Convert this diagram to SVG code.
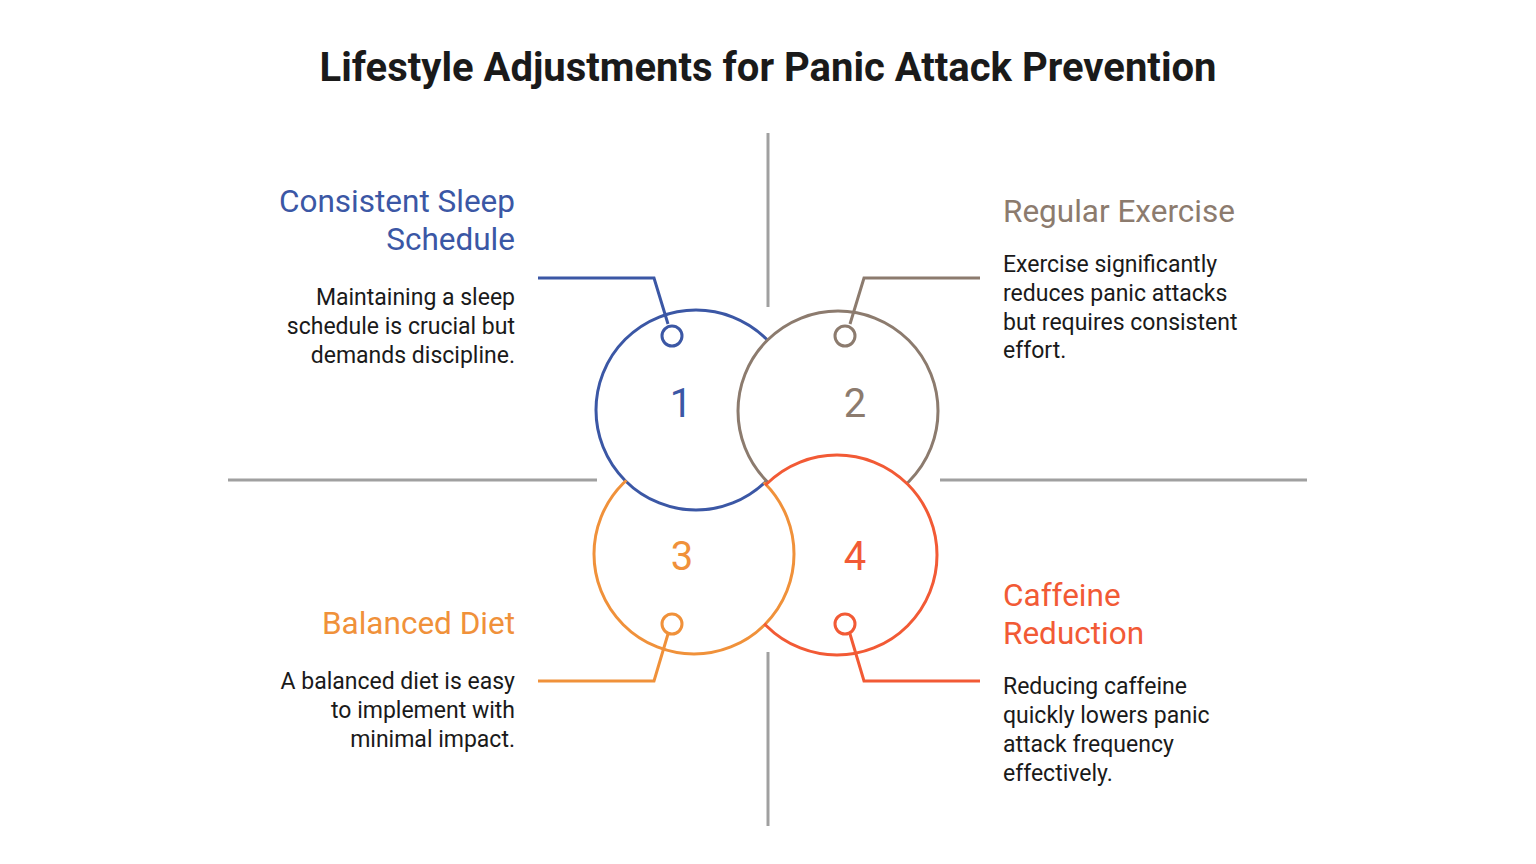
<svg xmlns="http://www.w3.org/2000/svg" width="1536" height="864" viewBox="0 0 1536 864">
<style>
text{font-family:Roboto,"Liberation Sans",sans-serif}
.t{font-size:40px;font-weight:bold;fill:#1a1a1a}
.h{font-size:31.5px}
.d{font-size:23px;fill:#1a1a1a}
.ax{stroke:#a0a0a0;stroke-width:3;fill:none}
.c{fill:none;stroke-width:3}
.n{font-size:40px}
</style>
<defs>
<mask id="m1"><rect width="1536" height="864" fill="#fff"/><circle cx="838" cy="411" r="99" fill="#000"/></mask>
<mask id="m2"><rect width="1536" height="864" fill="#fff"/><circle cx="837" cy="555" r="99" fill="#000"/></mask>
<mask id="m3"><rect width="1536" height="864" fill="#fff"/><circle cx="696" cy="410" r="99" fill="#000"/></mask>
<mask id="m4"><rect width="1536" height="864" fill="#fff"/><circle cx="694" cy="554" r="99" fill="#000"/></mask>
</defs>
<rect width="1536" height="864" fill="#fff"/>
<text class="t" x="768" y="81" text-anchor="middle">Lifestyle Adjustments for Panic Attack Prevention</text>
<g id="axes">
<line class="ax" x1="768" y1="133" x2="768" y2="307"/>
<line class="ax" x1="768" y1="652" x2="768" y2="826"/>
<line class="ax" x1="228" y1="480" x2="597" y2="480"/>
<line class="ax" x1="940" y1="480" x2="1307" y2="480"/>
</g>
<g id="node1"><circle class="c" cx="696" cy="410" r="100" stroke="#3b57a5" mask="url(#m1)"/><text class="n" x="681" y="417" text-anchor="middle" fill="#3b57a5">1</text></g>
<g id="node2"><circle class="c" cx="838" cy="411" r="100" stroke="#8c7b6e" mask="url(#m2)"/><text class="n" x="855" y="417" text-anchor="middle" fill="#8c7b6e">2</text></g>
<g id="node3"><circle class="c" cx="694" cy="554" r="100" stroke="#f0913a" mask="url(#m3)"/><text class="n" x="682" y="570" text-anchor="middle" fill="#f0913a">3</text></g>
<g id="node4"><circle class="c" cx="837" cy="555" r="100" stroke="#f25a35" mask="url(#m4)"/><text class="n" x="855" y="570" text-anchor="middle" fill="#f25a35">4</text></g>
<g id="connectors" fill="none" stroke-width="3">
<polyline points="538,278 654,278 668,324" stroke="#3b57a5"/><circle cx="672" cy="336" r="10" stroke="#3b57a5" fill="#fff"/>
<polyline points="980,278 864,278 850,324" stroke="#8c7b6e"/><circle cx="845" cy="336" r="10" stroke="#8c7b6e" fill="#fff"/>
<polyline points="538,681 654,681 668,634" stroke="#f0913a"/><circle cx="672" cy="624" r="10" stroke="#f0913a" fill="#fff"/>
<polyline points="980,681 864,681 850,634" stroke="#f25a35"/><circle cx="845" cy="624" r="10" stroke="#f25a35" fill="#fff"/>
</g>
<g id="label1" text-anchor="end">
<text class="h" x="515" y="212" fill="#3b57a5">Consistent Sleep</text>
<text class="h" x="515" y="250" fill="#3b57a5">Schedule</text>
<text class="d" x="515" y="305">Maintaining a sleep</text>
<text class="d" x="515" y="334">schedule is crucial but</text>
<text class="d" x="515" y="363">demands discipline.</text>
</g>
<g id="label2">
<text class="h" x="1003" y="222" fill="#8c7b6e">Regular Exercise</text>
<text class="d" x="1003" y="272">Exercise significantly</text>
<text class="d" x="1003" y="301">reduces panic attacks</text>
<text class="d" x="1003" y="330">but requires consistent</text>
<text class="d" x="1003" y="358">effort.</text>
</g>
<g id="label3" text-anchor="end">
<text class="h" x="515" y="634" fill="#f0913a">Balanced Diet</text>
<text class="d" x="515" y="689">A balanced diet is easy</text>
<text class="d" x="515" y="718">to implement with</text>
<text class="d" x="515" y="747">minimal impact.</text>
</g>
<g id="label4">
<text class="h" x="1003" y="606" fill="#f25a35">Caffeine</text>
<text class="h" x="1003" y="644" fill="#f25a35">Reduction</text>
<text class="d" x="1003" y="694">Reducing caffeine</text>
<text class="d" x="1003" y="723">quickly lowers panic</text>
<text class="d" x="1003" y="752">attack frequency</text>
<text class="d" x="1003" y="781">effectively.</text>
</g>
</svg>
